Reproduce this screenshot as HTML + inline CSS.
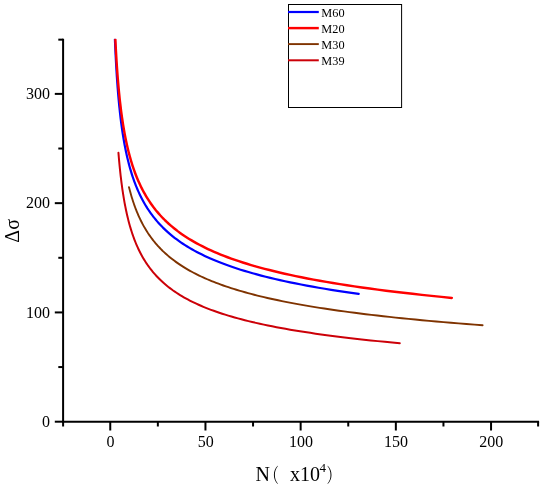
<!DOCTYPE html>
<html><head><meta charset="utf-8"><title>chart</title>
<style>
html,body{margin:0;padding:0;background:#fff;}
svg{display:block;}
text{font-family:"Liberation Serif","Noto Serif CJK SC",serif;fill:#000;}
</style></head><body>
<svg width="550" height="492" viewBox="0 0 550 492">
<rect width="550" height="492" fill="#fff"/>
<defs><clipPath id="pc"><rect x="64" y="38.7" width="476" height="382"/></clipPath></defs>

<g fill="none" stroke-linecap="round" stroke-linejoin="round" clip-path="url(#pc)">
<path d="M114.91,39.40 L115.04,42.40 L115.17,45.38 L115.30,48.33 L115.43,51.26 L115.57,54.17 L115.72,57.05 L115.87,59.92 L116.02,62.75 L116.18,65.57 L116.34,68.37 L116.51,71.14 L116.68,73.89 L116.85,76.62 L117.04,79.33 L117.22,82.02 L117.42,84.68 L117.62,87.33 L117.82,89.95 L118.03,92.56 L118.25,95.14 L118.47,97.70 L118.70,100.25 L118.94,102.77 L119.18,105.27 L119.44,107.76 L119.70,110.22 L119.96,112.67 L120.24,115.09 L120.52,117.50 L120.81,119.89 L121.11,122.26 L121.42,124.61 L121.74,126.94 L122.07,129.25 L122.41,131.55 L122.75,133.83 L123.11,136.09 L123.48,138.33 L123.86,140.55 L124.25,142.76 L124.65,144.95 L125.07,147.12 L125.50,149.28 L125.94,151.42 L126.39,153.54 L126.86,155.64 L127.34,157.73 L127.83,159.80 L128.34,161.86 L128.87,163.90 L129.41,165.92 L129.96,167.93 L130.54,169.92 L131.13,171.90 L131.73,173.86 L132.36,175.81 L133.01,177.74 L133.67,179.65 L134.35,181.55 L135.06,183.44 L135.78,185.31 L136.53,187.17 L137.30,189.01 L138.09,190.84 L138.91,192.65 L139.75,194.45 L140.61,196.23 L141.50,198.00 L142.42,199.76 L143.36,201.50 L144.34,203.23 L145.34,204.94 L146.37,206.65 L147.43,208.34 L148.53,210.01 L149.66,211.67 L150.82,213.32 L152.01,214.96 L153.24,216.58 L154.51,218.19 L155.82,219.79 L157.16,221.38 L158.55,222.95 L159.97,224.51 L161.44,226.06 L162.95,227.60 L164.51,229.12 L166.11,230.63 L167.77,232.13 L169.47,233.62 L171.22,235.10 L173.02,236.56 L174.88,238.02 L176.79,239.46 L178.76,240.89 L180.79,242.31 L182.88,243.72 L185.04,245.12 L187.25,246.51 L189.53,247.88 L191.88,249.25 L194.31,250.60 L196.80,251.95 L199.37,253.28 L202.01,254.60 L204.73,255.91 L207.54,257.22 L210.42,258.51 L213.40,259.79 L216.46,261.06 L219.61,262.32 L222.86,263.58 L226.21,264.82 L229.65,266.05 L233.20,267.27 L236.85,268.49 L240.61,269.69 L244.49,270.88 L248.48,272.07 L252.59,273.25 L256.82,274.41 L261.18,275.57 L265.66,276.72 L270.28,277.86 L275.04,278.99 L279.95,280.11 L284.99,281.22 L290.19,282.32 L295.55,283.42 L301.06,284.51 L306.74,285.58 L312.58,286.65 L318.60,287.71 L324.81,288.77 L331.19,289.81 L337.77,290.85 L344.54,291.88 L351.52,292.90 L358.70,293.91" stroke="#0000ff" stroke-width="2.2"/>
<path d="M115.34,39.40 L115.50,42.49 L115.65,45.55 L115.81,48.59 L115.98,51.60 L116.15,54.59 L116.33,57.55 L116.51,60.49 L116.69,63.41 L116.89,66.30 L117.09,69.17 L117.29,72.02 L117.50,74.84 L117.72,77.65 L117.95,80.42 L118.18,83.18 L118.42,85.91 L118.67,88.63 L118.92,91.32 L119.18,93.98 L119.45,96.63 L119.73,99.26 L120.02,101.86 L120.32,104.44 L120.62,107.01 L120.94,109.55 L121.26,112.07 L121.60,114.57 L121.94,117.05 L122.30,119.51 L122.66,121.95 L123.04,124.37 L123.43,126.77 L123.84,129.15 L124.25,131.52 L124.68,133.86 L125.12,136.19 L125.57,138.49 L126.04,140.78 L126.53,143.05 L127.02,145.30 L127.54,147.53 L128.07,149.75 L128.61,151.94 L129.18,154.12 L129.76,156.28 L130.36,158.43 L130.97,160.55 L131.61,162.66 L132.27,164.76 L132.94,166.83 L133.64,168.89 L134.36,170.93 L135.10,172.96 L135.87,174.97 L136.65,176.96 L137.47,178.94 L138.31,180.90 L139.17,182.84 L140.06,184.77 L140.98,186.69 L141.93,188.59 L142.90,190.47 L143.91,192.34 L144.95,194.19 L146.02,196.03 L147.12,197.85 L148.26,199.66 L149.43,201.45 L150.64,203.23 L151.89,205.00 L153.17,206.75 L154.50,208.48 L155.86,210.21 L157.27,211.92 L158.73,213.61 L160.22,215.29 L161.77,216.96 L163.36,218.61 L165.00,220.26 L166.70,221.88 L168.44,223.50 L170.24,225.10 L172.10,226.69 L174.01,228.26 L175.98,229.83 L178.01,231.38 L180.11,232.91 L182.27,234.44 L184.50,235.95 L186.80,237.45 L189.17,238.94 L191.61,240.42 L194.13,241.88 L196.73,243.34 L199.40,244.78 L202.16,246.21 L205.01,247.63 L207.94,249.03 L210.97,250.43 L214.09,251.81 L217.30,253.19 L220.62,254.55 L224.04,255.90 L227.56,257.24 L231.20,258.57 L234.95,259.89 L238.81,261.19 L242.79,262.49 L246.90,263.78 L251.14,265.06 L255.50,266.32 L260.00,267.58 L264.65,268.82 L269.43,270.06 L274.37,271.28 L279.45,272.50 L284.70,273.71 L290.11,274.90 L295.68,276.09 L301.43,277.27 L307.36,278.43 L313.47,279.59 L319.77,280.74 L326.27,281.88 L332.96,283.01 L339.87,284.13 L346.99,285.24 L354.33,286.35 L361.90,287.44 L369.71,288.53 L377.75,289.60 L386.05,290.67 L394.60,291.73 L403.42,292.78 L412.52,293.82 L421.89,294.86 L431.56,295.88 L441.52,296.90 L451.80,297.91" stroke="#ff0000" stroke-width="2.45"/>
<path d="M128.99,187.15 L129.37,188.64 L129.75,190.13 L130.15,191.60 L130.55,193.07 L130.96,194.53 L131.38,195.97 L131.81,197.41 L132.25,198.84 L132.70,200.26 L133.16,201.67 L133.63,203.07 L134.11,204.47 L134.60,205.85 L135.10,207.23 L135.61,208.59 L136.14,209.95 L136.68,211.30 L137.23,212.64 L137.79,213.97 L138.36,215.30 L138.95,216.61 L139.55,217.92 L140.16,219.22 L140.79,220.51 L141.43,221.79 L142.09,223.06 L142.76,224.33 L143.45,225.59 L144.15,226.84 L144.87,228.08 L145.60,229.31 L146.35,230.54 L147.12,231.75 L147.90,232.97 L148.71,234.17 L149.53,235.36 L150.37,236.55 L151.22,237.73 L152.10,238.90 L153.00,240.07 L153.92,241.23 L154.85,242.38 L155.81,243.52 L156.79,244.65 L157.80,245.78 L158.82,246.90 L159.87,248.02 L160.94,249.12 L162.04,250.22 L163.16,251.32 L164.31,252.40 L165.48,253.48 L166.68,254.55 L167.91,255.62 L169.16,256.68 L170.44,257.73 L171.75,258.77 L173.09,259.81 L174.47,260.84 L175.87,261.87 L177.30,262.89 L178.77,263.90 L180.27,264.91 L181.80,265.91 L183.37,266.90 L184.97,267.89 L186.61,268.87 L188.28,269.84 L190.00,270.81 L191.75,271.77 L193.54,272.73 L195.37,273.68 L197.25,274.62 L199.16,275.56 L201.12,276.49 L203.12,277.41 L205.17,278.33 L207.27,279.25 L209.41,280.16 L211.60,281.06 L213.84,281.96 L216.13,282.85 L218.47,283.73 L220.87,284.61 L223.31,285.49 L225.82,286.35 L228.38,287.22 L231.00,288.07 L233.68,288.93 L236.41,289.77 L239.21,290.61 L242.08,291.45 L245.00,292.28 L248.00,293.11 L251.06,293.93 L254.19,294.74 L257.39,295.55 L260.66,296.35 L264.01,297.15 L267.43,297.95 L270.93,298.74 L274.51,299.52 L278.17,300.30 L281.91,301.07 L285.73,301.84 L289.65,302.61 L293.65,303.37 L297.74,304.12 L301.92,304.87 L306.20,305.62 L310.57,306.36 L315.05,307.09 L319.62,307.82 L324.30,308.55 L329.08,309.27 L333.97,309.99 L338.97,310.70 L344.08,311.41 L349.31,312.11 L354.66,312.81 L360.13,313.51 L365.72,314.20 L371.44,314.88 L377.28,315.56 L383.26,316.24 L389.37,316.91 L395.62,317.58 L402.02,318.25 L408.55,318.91 L415.24,319.56 L422.07,320.21 L429.06,320.86 L436.21,321.50 L443.51,322.14 L450.99,322.78 L458.63,323.41 L466.44,324.04 L474.43,324.66 L482.60,325.28" stroke="#7f3300" stroke-width="1.9"/>
<path d="M118.44,152.75 L118.64,155.12 L118.83,157.47 L119.04,159.80 L119.25,162.11 L119.46,164.40 L119.69,166.67 L119.91,168.91 L120.15,171.14 L120.39,173.35 L120.63,175.54 L120.89,177.71 L121.14,179.86 L121.41,182.00 L121.69,184.11 L121.97,186.20 L122.25,188.28 L122.55,190.34 L122.86,192.38 L123.17,194.40 L123.49,196.40 L123.82,198.39 L124.16,200.36 L124.50,202.31 L124.86,204.25 L125.23,206.16 L125.60,208.06 L125.99,209.95 L126.39,211.82 L126.80,213.67 L127.21,215.50 L127.64,217.32 L128.09,219.12 L128.54,220.91 L129.00,222.68 L129.48,224.43 L129.97,226.17 L130.48,227.90 L130.99,229.61 L131.53,231.30 L132.07,232.98 L132.63,234.64 L133.21,236.29 L133.80,237.93 L134.41,239.55 L135.03,241.16 L135.67,242.75 L136.33,244.33 L137.00,245.89 L137.70,247.44 L138.41,248.98 L139.14,250.50 L139.89,252.01 L140.66,253.51 L141.45,254.99 L142.26,256.46 L143.10,257.92 L143.96,259.37 L144.84,260.80 L145.74,262.22 L146.67,263.62 L147.62,265.02 L148.60,266.40 L149.61,267.77 L150.64,269.13 L151.70,270.47 L152.79,271.81 L153.90,273.13 L155.05,274.44 L156.23,275.74 L157.44,277.03 L158.68,278.30 L159.96,279.57 L161.27,280.82 L162.62,282.07 L164.00,283.30 L165.42,284.52 L166.88,285.73 L168.37,286.93 L169.91,288.12 L171.49,289.30 L173.11,290.47 L174.78,291.62 L176.48,292.77 L178.24,293.91 L180.04,295.04 L181.89,296.16 L183.80,297.26 L185.75,298.36 L187.75,299.45 L189.81,300.53 L191.92,301.60 L194.10,302.66 L196.32,303.71 L198.61,304.75 L200.96,305.78 L203.38,306.81 L205.86,307.82 L208.40,308.83 L211.02,309.82 L213.70,310.81 L216.46,311.79 L219.29,312.76 L222.20,313.72 L225.18,314.67 L228.25,315.62 L231.39,316.56 L234.63,317.48 L237.95,318.40 L241.36,319.32 L244.86,320.22 L248.45,321.12 L252.14,322.00 L255.93,322.88 L259.83,323.76 L263.83,324.62 L267.93,325.48 L272.15,326.33 L276.48,327.17 L280.92,328.01 L285.49,328.83 L290.17,329.65 L294.99,330.47 L299.93,331.27 L305.01,332.07 L310.22,332.86 L315.58,333.65 L321.07,334.42 L326.72,335.19 L332.52,335.96 L338.47,336.72 L344.58,337.47 L350.86,338.21 L357.31,338.95 L363.93,339.68 L370.73,340.40 L377.71,341.12 L384.88,341.83 L392.24,342.54 L399.80,343.24" stroke="#cc0008" stroke-width="2.0"/>
</g>
<g stroke="#000" stroke-width="2" fill="none">
<path d="M63.1,38.65 V422.7"/>
<path d="M62.1,421.7 H539.1"/>
<path d="M54.8,421.70 H63.1"/>
<path d="M54.8,312.43 H63.1"/>
<path d="M54.8,203.16 H63.1"/>
<path d="M54.8,93.89 H63.1"/>
<path d="M58.3,367.06 H63.1"/>
<path d="M58.3,257.79 H63.1"/>
<path d="M58.3,148.52 H63.1"/>
<path d="M58.3,39.65 H63.1"/>
<path d="M110.25,421.7 V430.5"/>
<path d="M205.45,421.7 V430.5"/>
<path d="M300.65,421.7 V430.5"/>
<path d="M395.85,421.7 V430.5"/>
<path d="M491.05,421.7 V430.5"/>
<path d="M157.85,421.7 V426.5"/>
<path d="M253.05,421.7 V426.5"/>
<path d="M348.25,421.7 V426.5"/>
<path d="M443.45,421.7 V426.5"/>
<path d="M63.10,421.7 V426.5"/>
<path d="M538.10,421.7 V426.5"/>
</g>
<g font-size="16">
<text x="50" y="426.9" text-anchor="end">0</text>
<text x="50" y="317.6" text-anchor="end">100</text>
<text x="50" y="208.4" text-anchor="end">200</text>
<text x="50" y="99.1" text-anchor="end">300</text>
<text x="110.5" y="447.3" text-anchor="middle">0</text>
<text x="205.7" y="447.3" text-anchor="middle">50</text>
<text x="300.9" y="447.3" text-anchor="middle">100</text>
<text x="396.1" y="447.3" text-anchor="middle">150</text>
<text x="491.3" y="447.3" text-anchor="middle">200</text>
</g>
<text font-size="20" transform="translate(18.5,230.8) rotate(-90)" text-anchor="middle">Δσ</text>
<g font-size="20"><text x="255.6" y="481">N</text><text x="272.3" y="479.5" font-size="17.5" style="font-family:'Noto Serif CJK SC',serif;font-weight:200">(</text><text x="290" y="481">x10</text><text x="319.5" y="472" font-size="13">4</text><text x="327" y="479.5" font-size="17.5" style="font-family:'Noto Serif CJK SC',serif;font-weight:200">)</text></g>
<rect x="288.5" y="4.5" width="113.1" height="103" fill="#fff" stroke="#000" stroke-width="1"/>
<path d="M288,12.0 H318.8" stroke="#0000ff" stroke-width="2.2" fill="none"/>
<text x="321.3" y="16.5" font-size="12.3">M60</text>
<path d="M288,28.1 H318.8" stroke="#ff0000" stroke-width="2.45" fill="none"/>
<text x="321.3" y="32.6" font-size="12.3">M20</text>
<path d="M288,44.1 H318.8" stroke="#7f3300" stroke-width="1.9" fill="none"/>
<text x="321.3" y="48.6" font-size="12.3">M30</text>
<path d="M288,60.3 H318.8" stroke="#cc0008" stroke-width="2.0" fill="none"/>
<text x="321.3" y="64.8" font-size="12.3">M39</text>
</svg></body></html>
